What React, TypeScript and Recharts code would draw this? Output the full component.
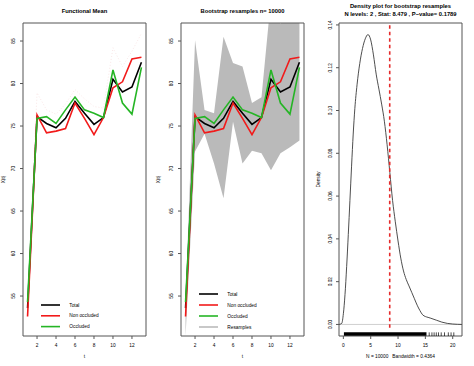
import {
    LineChart,
    ComposedChart,
    Line,
    Area,
    XAxis,
    YAxis,
    ReferenceArea,
    ReferenceLine
} from 'recharts'

// time points and the three functional means (shared by panels 1 and 2)
const tValues = [1, 2, 3, 4, 5, 6, 7, 8, 9, 10, 11, 12, 13]
const totalMean = [53.6, 76.1, 75.3, 74.8, 75.9, 77.9, 76.5, 75.2, 76.0, 80.5, 79.0, 79.6, 82.5]
const nonOccludedMean = [52.6, 76.3, 74.2, 74.4, 74.7, 77.7, 75.9, 74.0, 76.0, 79.5, 80.2, 82.9, 83.1]
const occludedMean = [54.3, 75.9, 76.1, 75.3, 76.9, 78.4, 76.9, 76.5, 76.0, 81.6, 77.7, 76.4, 81.9]
// faint individual curve visible behind the means in panel 1
const faintCurve = [54.0, 78.9, 76.9, 76.4, 77.6, 79.3, 78.2, 77.3, 77.1, 84.2, 82.0, 83.8, 85.9]
// envelope of the 10000 bootstrap resample curves (panel 2)
const resampleLow = [50.3, 72.0, 74.1, 70.6, 66.5, 75.5, 70.6, 72.1, 71.8, 69.8, 71.8, 72.5, 73.3]
const resampleHigh = [54.5, 85.1, 76.9, 76.5, 85.5, 82.4, 82.0, 77.7, 78.4, 90.0, 87.0, 90.0, 87.7]
const tTicks = [2, 4, 6, 8, 10, 12]
const xtTicks = [55, 60, 65, 70, 75, 80, 85]

// density of the bootstrap statistic (panel 3)
const densityX = [-0.8, -0.3, 0, 0.3, 0.6, 0.9, 1.2, 1.5, 1.8, 2.1, 2.5, 3.0, 3.5, 4.0, 4.5, 5.0, 5.5, 6.0, 6.5, 7.0, 7.5, 8.0, 8.5, 9.0, 9.5, 10.0, 10.5, 11.0, 11.5, 12.0, 12.5, 13.0, 13.5, 14.0, 14.5, 15.0, 15.5, 16.0, 17.0, 18.0, 19.0, 20.0, 21.7]
const densityY = [0, 0.0005, 0.005, 0.014, 0.027, 0.042, 0.058, 0.074, 0.089, 0.101, 0.112, 0.122, 0.129, 0.1335, 0.1355, 0.133, 0.126, 0.117, 0.11, 0.103, 0.095, 0.084, 0.071, 0.058, 0.048, 0.039, 0.031, 0.025, 0.021, 0.018, 0.015, 0.012, 0.009, 0.0065, 0.0045, 0.0037, 0.0033, 0.0029, 0.002, 0.0011, 0.0005, 0.0002, 0]
const observedStat = 8.479
const rugDenseFrom = 0.1
const rugDenseTo = 15.2
const rugSparse = [15.7, 16.2, 16.6, 17.0, 17.4, 17.9, 18.5, 19.2, 19.7, 20.2]
const densXTicks = [0, 5, 10, 15, 20]
const densYTicks = [0, 0.02, 0.04, 0.06, 0.08, 0.1, 0.12, 0.14]

const FONT = '"Liberation Sans", Arial, Helvetica, sans-serif'
const RED = '#f21a1a'
const GREEN = '#25b525'
const GREY = '#bababa'
const FRAME = '#555'
const TXT = 4.8
const NB = '\u00a0'

const tDomain: [number, number] = [0.52, 13.48]
const xtDomain: [number, number] = [50.3, 87.12]
const densXDomain: [number, number] = [-0.8, 21.7]
const densYDomain: [number, number] = [-0.0054, 0.1409]

const meanRows = tValues.map((t, i) => ({
    t,
    total: totalMean[i],
    nonOcc: nonOccludedMean[i],
    occ: occludedMean[i],
    faint: faintCurve[i],
    band: [resampleLow[i], resampleHigh[i]]
}))

const densityRows = densityX.map((x, i) => ({ x, d: densityY[i] }))

function RotatedTick(props: any) {
    const { x, y, payload, digits } = props
    const label = digits ? Number(payload.value).toFixed(digits) : String(payload.value)
    return (
        <text
            x={x}
            y={y}
            transform={`rotate(-90 ${x} ${y})`}
            textAnchor="middle"
            fontSize={TXT}
            fontFamily={FONT}
            fill="#000"
        >
            {label}
        </text>
    )
}

function LegendBox({ items, left, top, step }: { items: { label: string; color: string }[]; left: number; top: number; step: number }) {
    return (
        <svg style={{ position: 'absolute', left, top }} width={90} height={items.length * step + 4}>
            {items.map((it, i) => (
                <g key={it.label}>
                    <line x1={0} x2={19} y1={i * step + 5} y2={i * step + 5} stroke={it.color} strokeWidth={1.6} />
                    <text x={28.3} y={i * step + 5} dominantBaseline="central" fontSize={TXT} fontFamily={FONT} fill="#000">
                        {it.label}
                    </text>
                </g>
            ))}
        </svg>
    )
}

const axisText = { fontSize: TXT, fill: '#000', fontFamily: FONT }

function Title({ lines, left, width, top }: { lines: string[]; left: number; width: number; top: number }) {
    return (
        <div
            style={{
                position: 'absolute',
                left,
                top,
                width,
                textAlign: 'center',
                fontFamily: FONT,
                fontWeight: 'bold',
                fontSize: 5.8,
                lineHeight: '7.7px',
                whiteSpace: 'nowrap',
                color: '#000'
            }}
        >
            {lines.map((l) => (
                <div key={l}>{l}</div>
            ))}
        </div>
    )
}

function Frame({ xd, yd }: { xd: [number, number]; yd: [number, number] }) {
    return <ReferenceArea x1={xd[0]} x2={xd[1]} y1={yd[0]} y2={yd[1]} fill="none" fillOpacity={0} stroke={FRAME} strokeWidth={1} ifOverflow="visible" />
}

function MeanPanel({ withResamples }: { withResamples: boolean }) {
    const yw = withResamples ? 26 : 23
    const width = withResamples ? 158 : 155
    const items = [
        { label: 'Total', color: '#000' },
        { label: 'Non occluded', color: RED },
        { label: 'Occluded', color: GREEN }
    ]
    if (withResamples) items.push({ label: 'Resamples', color: GREY })
    return (
        <div style={{ position: 'absolute', left: withResamples ? 155 : 0, top: 0, width, height: 366 }}>
            <ComposedChart width={width} height={366} data={meanRows} margin={{ top: 23, right: 9, bottom: 0, left: 0 }}>
                <XAxis
                    dataKey="t"
                    type="number"
                    domain={tDomain}
                    ticks={tTicks}
                    interval={0}
                    allowDataOverflow
                    axisLine={false}
                    tickLine={{ stroke: FRAME }}
                    tickSize={3}
                    tickMargin={4.6}
                    tick={axisText}
                    height={30}
                    label={{ value: 't', position: 'insideBottom', offset: 8, style: axisText }}
                />
                <YAxis
                    type="number"
                    domain={xtDomain}
                    ticks={xtTicks}
                    interval={0}
                    allowDataOverflow
                    axisLine={false}
                    tickLine={{ stroke: FRAME }}
                    tickSize={3}
                    tickMargin={5}
                    width={yw}
                    tick={(p: any) => <RotatedTick {...p} />}
                    label={{ value: 'X(t)', angle: -90, position: 'insideLeft', offset: 3, style: { ...axisText, textAnchor: 'middle' } }}
                />
                {withResamples ? (
                    <Area dataKey="band" type="linear" stroke="none" fill={GREY} fillOpacity={1} isAnimationActive={false} />
                ) : (
                    <Line dataKey="faint" type="linear" stroke="#f6dcdc" strokeWidth={0.7} strokeDasharray="1 2" dot={false} isAnimationActive={false} />
                )}
                <Line dataKey="total" type="linear" stroke="#000" strokeWidth={1.6} dot={false} isAnimationActive={false} />
                <Line dataKey="nonOcc" type="linear" stroke={RED} strokeWidth={1.6} dot={false} isAnimationActive={false} />
                <Line dataKey="occ" type="linear" stroke={GREEN} strokeWidth={1.6} dot={false} isAnimationActive={false} />
                <Frame xd={tDomain} yd={xtDomain} />
            </ComposedChart>
            <Title
                lines={[withResamples ? 'Bootstrap resamples n= 10000' : 'Functional Mean']}
                left={yw}
                width={123}
                top={8.2}
            />
            {withResamples ? (
                <LegendBox items={items} left={44.3} top={288.7} step={11} />
            ) : (
                <LegendBox items={items} left={40.7} top={299.7} step={10.8} />
            )}
        </div>
    )
}

function DensityPanel() {
    const yMin = densYDomain[0]
    return (
        <div style={{ position: 'absolute', left: 313, top: 0, width: 161, height: 366 }}>
            <LineChart width={161} height={366} data={densityRows} margin={{ top: 23, right: 12, bottom: 0, left: 0 }}>
                <XAxis
                    dataKey="x"
                    type="number"
                    domain={densXDomain}
                    ticks={densXTicks}
                    interval={0}
                    allowDataOverflow
                    axisLine={false}
                    tickLine={{ stroke: FRAME }}
                    tickSize={3}
                    tickMargin={4.6}
                    tick={axisText}
                    height={30}
                    label={{ value: `N = 10000${NB}${NB}${NB}Bandwidth = 0.4364`, position: 'insideBottom', offset: 8, style: axisText }}
                />
                <YAxis
                    type="number"
                    domain={densYDomain}
                    ticks={densYTicks}
                    interval={0}
                    allowDataOverflow
                    axisLine={false}
                    tickLine={{ stroke: FRAME }}
                    tickSize={3}
                    tickMargin={4}
                    width={26}
                    tick={(p: any) => <RotatedTick {...p} digits={2} />}
                    label={{ value: 'Density', angle: -90, position: 'insideLeft', offset: 5, style: { ...axisText, textAnchor: 'middle' } }}
                />
                <ReferenceLine y={0} stroke="#c4c4c4" strokeWidth={0.8} />
                <Line dataKey="d" type="monotone" stroke="#3a3a3a" strokeWidth={0.9} dot={false} isAnimationActive={false} />
                <ReferenceLine
                    segment={[
                        { x: observedStat, y: -0.0015 },
                        { x: observedStat, y: densYDomain[1] }
                    ]}
                    stroke="#e52a2a"
                    strokeWidth={1.6}
                    strokeDasharray="3.5 3"
                    ifOverflow="visible"
                />
                <ReferenceArea x1={rugDenseFrom} x2={rugDenseTo} y1={yMin} y2={yMin + 0.0017} fill="#000" fillOpacity={1} stroke="none" ifOverflow="visible" />
                {rugSparse.map((r) => (
                    <ReferenceLine
                        key={r}
                        segment={[
                            { x: r, y: yMin },
                            { x: r, y: yMin + 0.0017 }
                        ]}
                        stroke="#000"
                        strokeWidth={0.7}
                        ifOverflow="visible"
                    />
                ))}
                <Frame xd={densXDomain} yd={densYDomain} />
            </LineChart>
            <Title
                lines={['Density plot for bootstrap resamples', 'N levels: 2 , Stat: 8.479 , P\u2212value= 0.1789']}
                left={26}
                width={123}
                top={3.4}
            />
        </div>
    )
}

export default function App() {
    return (
        <div style={{ position: 'absolute', left: 0, top: 0, width: 474, height: 366, background: '#fff', overflow: 'hidden' }}>
            <MeanPanel withResamples={false} />
            <MeanPanel withResamples={true} />
            <DensityPanel />
        </div>
    )
}
